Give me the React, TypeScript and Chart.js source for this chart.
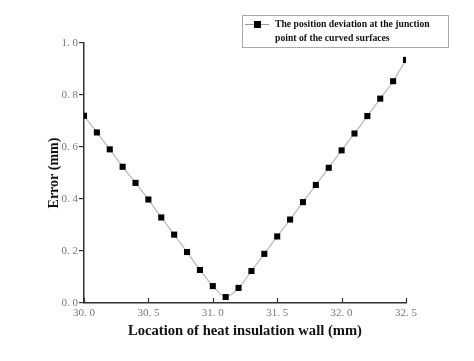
import React, { useEffect, useRef } from "react";
import { Chart, registerables } from "chart.js";

Chart.register(...registerables);

const xValues = [30.0, 30.1, 30.2, 30.3, 30.4, 30.5, 30.6, 30.7, 30.8, 30.9, 31.0, 31.1, 31.2, 31.3, 31.4, 31.5, 31.6, 31.7, 31.8, 31.9, 32.0, 32.1, 32.2, 32.3, 32.4, 32.5];
const errorValues = [0.72, 0.656, 0.591, 0.524, 0.462, 0.398, 0.329, 0.263, 0.196, 0.127, 0.065, 0.023, 0.058, 0.123, 0.189, 0.256, 0.321, 0.388, 0.454, 0.52, 0.587, 0.652, 0.719, 0.786, 0.853, 0.935];
const seriesLabel = ["The position deviation at the junction", "point of the curved surfaces"];
const xTitle = "Location of heat insulation wall (mm)";
const yTitle = "Error (mm)";

const SERIF = "'Liberation Serif', 'Times New Roman', serif";

const xTickPlugin = {
  id: "xInwardTicks",
  afterDraw(chart: any) {
    const ctx = chart.ctx;
    const xs = chart.scales.x;
    const bottom = chart.chartArea.bottom;
    ctx.save();
    ctx.strokeStyle = "#333";
    ctx.lineWidth = 1.2;
    xs.ticks.forEach((t: any) => {
      const px = Math.round(xs.getPixelForValue(t.value)) + 0.5;
      ctx.beginPath();
      ctx.moveTo(px, bottom);
      ctx.lineTo(px, bottom - 5);
      ctx.stroke();
    });
    ctx.restore();
  },
};

const legendPlugin = {
  id: "boxLegend",
  afterDraw(chart: any) {
    const ctx = chart.ctx;
    ctx.save();
    const bx = 242, by = 15, bw = 206, bh = 32;
    ctx.strokeStyle = "#aaa";
    ctx.lineWidth = 1;
    ctx.strokeRect(bx + 0.5, by + 0.5, bw, bh);
    ctx.strokeStyle = "#999";
    ctx.beginPath();
    ctx.moveTo(245, 24.5);
    ctx.lineTo(269, 24.5);
    ctx.stroke();
    ctx.fillStyle = "#000";
    ctx.fillRect(254, 21, 7, 7);
    ctx.font = `bold 9.7px ${SERIF}`;
    ctx.textBaseline = "middle";
    ctx.textAlign = "left";
    ctx.fillStyle = "#111";
    ctx.fillText(seriesLabel[0], 275, 24);
    ctx.fillText(seriesLabel[1], 275, 38);
    ctx.restore();
  },
};

export default function App() {
  const ref = useRef<HTMLCanvasElement>(null);
  useEffect(() => {
    const canvas = ref.current;
    if (!canvas) return;
    const chart = new Chart(canvas, {
      type: "line",
      data: {
        datasets: [
          {
            label: seriesLabel.join(" "),
            data: xValues.map((x, i) => ({ x, y: errorValues[i] })),
            borderColor: "#b8b8b8",
            borderWidth: 1.2,
            tension: 0.3,
            pointStyle: "rect",
            pointRadius: 4.3,
            pointBackgroundColor: "#000",
            pointBorderColor: "#000",
            pointBorderWidth: 0,
            fill: false,
          },
        ],
      },
      options: {
        responsive: false,
        animation: false,
        layout: { padding: { top: 43, right: 68, bottom: 17, left: 46 } },
        plugins: { legend: { display: false }, tooltip: { enabled: false } },
        scales: {
          x: {
            type: "linear",
            min: 30,
            max: 32.5,
            afterFit: (s: any) => { s.height = 361 - 303 - 17; },
            grid: { display: true, drawOnChartArea: false, drawTicks: false },
            border: { display: true, color: "#333", width: 1.5 },
            ticks: {
              stepSize: 0.5,
              padding: 4,
              color: "#777",
              font: { family: SERIF, size: 11 },
              callback: (v: any) => Number(v).toFixed(1).replace(".", ". "),
            },
            title: {
              display: true,
              text: xTitle,
              color: "#111",
              font: { family: SERIF, size: 14.6, weight: "bold" },
              padding: { top: 0, bottom: 4 },
            },
          },
          y: {
            min: 0,
            max: 1,
            afterFit: (s: any) => { s.width = 84 - 46; },
            grid: { display: true, drawOnChartArea: false, drawTicks: true, tickLength: 5, color: "#333", lineWidth: 1.2 },
            border: { display: true, color: "#333", width: 1.5 },
            ticks: {
              stepSize: 0.2,
              padding: 1,
              color: "#777",
              font: { family: SERIF, size: 11 },
              callback: (v: any) => Number(v).toFixed(1).replace(".", ". "),
            },
            title: {
              display: true,
              text: yTitle,
              color: "#111",
              font: { family: SERIF, size: 14, weight: "bold" },
              padding: { top: 0, bottom: 4 },
            },
          },
        },
      },
      plugins: [xTickPlugin, legendPlugin],
    });
    return () => chart.destroy();
  }, []);
  return (
    <div style={{ position: "fixed", left: 0, top: 0, width: 474, height: 361, background: "#fff" }}>
      <canvas ref={ref} width={474} height={361} style={{ display: "block" }} />
    </div>
  );
}
